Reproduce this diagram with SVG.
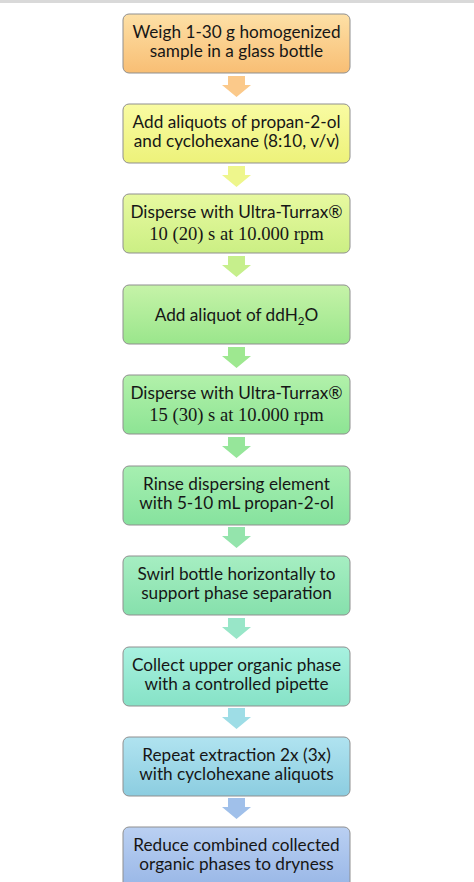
<svg xmlns="http://www.w3.org/2000/svg" width="474" height="882" viewBox="0 0 474 882">
<style>
.box{stroke:#8f8f8f;stroke-width:1}
.t{font-family:Lato,"Open Sans","Liberation Sans",sans-serif;font-size:17.2px;fill:#161616;text-anchor:middle}
.s{font-family:"Liberation Serif","Times New Roman",serif;font-size:18.6px;fill:#161616;text-anchor:middle}
</style>
<defs>
<linearGradient id="g1" x1="0" y1="0" x2="0" y2="1"><stop offset="0" stop-color="#fde0a6"/><stop offset="1" stop-color="#f8be74"/></linearGradient>
<linearGradient id="g2" x1="0" y1="0" x2="0" y2="1"><stop offset="0" stop-color="#f9fba2"/><stop offset="1" stop-color="#edf27a"/></linearGradient>
<linearGradient id="g3" x1="0" y1="0" x2="0" y2="1"><stop offset="0" stop-color="#e8f9a0"/><stop offset="1" stop-color="#cbef84"/></linearGradient>
<linearGradient id="g4" x1="0" y1="0" x2="0" y2="1"><stop offset="0" stop-color="#c6f3a8"/><stop offset="1" stop-color="#9ae68c"/></linearGradient>
<linearGradient id="g5" x1="0" y1="0" x2="0" y2="1"><stop offset="0" stop-color="#b2f1aa"/><stop offset="1" stop-color="#8de494"/></linearGradient>
<linearGradient id="g6" x1="0" y1="0" x2="0" y2="1"><stop offset="0" stop-color="#a6efb0"/><stop offset="1" stop-color="#86e29e"/></linearGradient>
<linearGradient id="g7" x1="0" y1="0" x2="0" y2="1"><stop offset="0" stop-color="#a6eec2"/><stop offset="1" stop-color="#86e0ac"/></linearGradient>
<linearGradient id="g8" x1="0" y1="0" x2="0" y2="1"><stop offset="0" stop-color="#a8f1e0"/><stop offset="1" stop-color="#86e2c6"/></linearGradient>
<linearGradient id="g9" x1="0" y1="0" x2="0" y2="1"><stop offset="0" stop-color="#b0e3f0"/><stop offset="1" stop-color="#8ccde0"/></linearGradient>
<linearGradient id="g10" x1="0" y1="0" x2="0" y2="1"><stop offset="0" stop-color="#bad0f2"/><stop offset="1" stop-color="#98b6e6"/></linearGradient>
<polygon id="arr" points="228,0 245,0 245,9 251,9 236.5,21 222,9 228,9"/>
</defs>
<rect x="0" y="0" width="474" height="3" fill="#d9d9d9"/>
<g id="connectors">
<use href="#arr" y="76" fill="#fbc98a"/>
<use href="#arr" y="166" fill="#eef68c"/>
<use href="#arr" y="256" fill="#c6ef8c"/>
<use href="#arr" y="347" fill="#9ee890"/>
<use href="#arr" y="437" fill="#96e69a"/>
<use href="#arr" y="527" fill="#94e4ac"/>
<use href="#arr" y="618" fill="#98e6c8"/>
<use href="#arr" y="708" fill="#9edde6"/>
<use href="#arr" y="798" fill="#a0c0ea"/>
</g>
<g id="n1"><rect class="box" x="123" y="14" width="227" height="59" rx="6" fill="url(#g1)"/>
<text class="t" x="236.5" y="38">Weigh 1-30 g homogenized</text><text class="t" x="236.5" y="57">sample in a glass bottle</text></g>
<g id="n2"><rect class="box" x="123" y="104" width="227" height="59" rx="6" fill="url(#g2)"/>
<text class="t" x="236.5" y="128">Add aliquots of propan-2-ol</text><text class="t" x="236.5" y="147">and cyclohexane (8:10, v/v)</text></g>
<g id="n3"><rect class="box" x="123" y="194" width="227" height="59" rx="6" fill="url(#g3)"/>
<text class="t" x="236.5" y="218">Disperse with Ultra-Turrax®</text><text class="s" x="236.5" y="240">10 (20) s at 10.000 rpm</text></g>
<g id="n4"><rect class="box" x="123" y="285" width="227" height="59" rx="6" fill="url(#g4)"/>
<text class="t" x="236.5" y="321">Add aliquot of ddH<tspan font-size="11.5" dy="4">2</tspan><tspan dy="-4">O</tspan></text></g>
<g id="n5"><rect class="box" x="123" y="375" width="227" height="59" rx="6" fill="url(#g5)"/>
<text class="t" x="236.5" y="399">Disperse with Ultra-Turrax®</text><text class="s" x="236.5" y="421">15 (30) s at 10.000 rpm</text></g>
<g id="n6"><rect class="box" x="123" y="466" width="227" height="59" rx="6" fill="url(#g6)"/>
<text class="t" x="236.5" y="490">Rinse dispersing element</text><text class="t" x="236.5" y="509">with 5-10 mL propan-2-ol</text></g>
<g id="n7"><rect class="box" x="123" y="556" width="227" height="59" rx="6" fill="url(#g7)"/>
<text class="t" x="236.5" y="580">Swirl bottle horizontally to</text><text class="t" x="236.5" y="599">support phase separation</text></g>
<g id="n8"><rect class="box" x="123" y="647" width="227" height="59" rx="6" fill="url(#g8)"/>
<text class="t" x="236.5" y="671">Collect upper organic phase</text><text class="t" x="236.5" y="690">with a controlled pipette</text></g>
<g id="n9"><rect class="box" x="123" y="737" width="227" height="59" rx="6" fill="url(#g9)"/>
<text class="t" x="236.5" y="761">Repeat extraction 2x (3x)</text><text class="t" x="236.5" y="780">with cyclohexane aliquots</text></g>
<g id="n10"><rect class="box" x="123" y="827" width="227" height="62" rx="6" fill="url(#g10)"/>
<text class="t" x="236.5" y="851">Reduce combined collected</text><text class="t" x="236.5" y="870">organic phases to dryness</text></g>
</svg>
